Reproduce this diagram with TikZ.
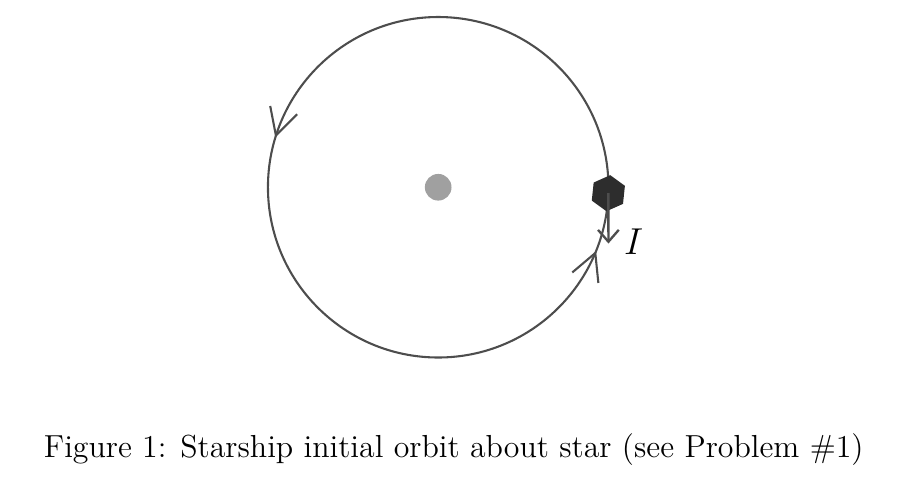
\documentclass[tikz,border=0pt]{standalone}
\usetikzlibrary{arrows.meta, shapes.geometric, decorations.markings}
\definecolor{orbitgray}{HTML}{4D4D4D}
\definecolor{stargray}{HTML}{A0A0A0}
\definecolor{shipgray}{HTML}{2D2D2D}
\begin{document}
\begin{tikzpicture}[line join=miter,
    orbit/.style={draw=orbitgray, line width=0.8pt, postaction={decorate},
        decoration={markings,
            mark=at position 0.453 with {\arrow{Straight Barb[length=0.36cm, width=0.38cm]}},
            mark=at position 0.939 with {\arrow{Straight Barb[length=0.36cm, width=0.38cm]}}}},
    ship/.style={regular polygon, regular polygon sides=6, fill=shipgray, minimum size=0.49cm, inner sep=0pt, rotate=24},
    thrust/.style={draw=orbitgray, line width=0.9pt, -{Straight Barb[length=0.16cm, width=0.28cm]}}]
    \useasboundingbox (-5.92, -4.12) rectangle (6.32, 2.53);
    \node[circle, fill=stargray, minimum size=0.36cm, inner sep=0pt] (star) at (0, 0) {};
    \path[orbit] (0, 0) circle (2.30);
    \node[ship] (ship) at (-2:2.30) {};
    \coordinate (tip) at (2.30, -0.76);
    \draw[thrust] (ship.center) -- (tip);
    \node[font=\Large] (impulse) at (2.64, -0.73) {$I$};
    \node[anchor=base, font=\fontsize{12.25}{15}\selectfont] (caption) at (0.21, -3.65) {Figure 1: Starship initial orbit about star (see Problem \#1)};
\end{tikzpicture}
\end{document}
